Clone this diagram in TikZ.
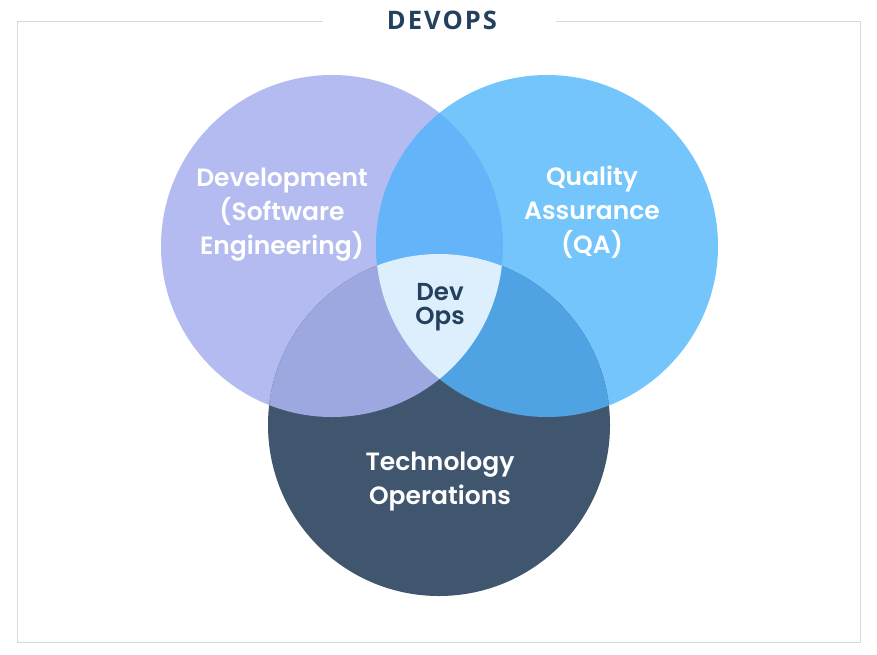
\documentclass[tikz,border=0pt]{standalone}
\usepackage{fontspec}
\setmainfont{Poppins}[BoldFont=* SemiBold]
\newfontfamily\titlefont{Open Sans}[LetterSpace=8]
\definecolor{devcol}{HTML}{B3BBF0}
\definecolor{qacol}{HTML}{74C5FC}
\definecolor{opscol}{HTML}{3F566E}
\definecolor{devqacol}{HTML}{64B4FA}
\definecolor{devopscol}{HTML}{9EA8E0}
\definecolor{qaopscol}{HTML}{4FA3E2}
\definecolor{corecol}{HTML}{DDEEFC}
\definecolor{inkcol}{HTML}{24405C}
\definecolor{framecol}{HTML}{D9D9D9}
\tikzset{
  frame/.style={draw=framecol, line width=1pt},
  lbl/.style={text=white, align=center, font=\fontsize{25}{34}\selectfont\bfseries},
  corelbl/.style={text=inkcol, align=center, font=\fontsize{24.5}{23.5}\selectfont\bfseries}
}

\begin{document}
\begin{tikzpicture}[x=1pt, y=-1pt]
      \useasboundingbox (0,0) rectangle (877,654);
      \fill[white] (0,0) rectangle (877,654);
      \draw[frame] (323,21) -| (17,642) -| (860,21) -- (556,21);
      \node[font=\titlefont\bfseries\fontsize{25.5}{30}\selectfont, text=inkcol] (title) at (442,20) {DEVOPS};
      % the three circles
      \fill[devcol] (332,246) circle (171);
      \fill[qacol] (547,246) circle (171);
      \fill[opscol] (439,425) circle (171);
      % overlaps
      \begin{scope}
        \clip (332,246) circle (171);
        \fill[devqacol] (547,246) circle (171);
        \fill[devopscol] (439,425) circle (171);
      \end{scope}
      \begin{scope}
        \clip (547,246) circle (171);
        \fill[qaopscol] (439,425) circle (171);
        \clip (332,246) circle (171);
        \fill[corecol] (439,425) circle (171);
      \end{scope}
      \node[lbl] (dev) at (282,215) {Development\\(Software\\Engineering)};
      \node[lbl] (qa) at (592,212) {Quality\\Assurance\\(QA)};
      \node[lbl] (ops) at (440,482) {Technology\\Operations};
      \node[corelbl] (core) at (440,307) {Dev\\Ops};
\end{tikzpicture}
\end{document}
